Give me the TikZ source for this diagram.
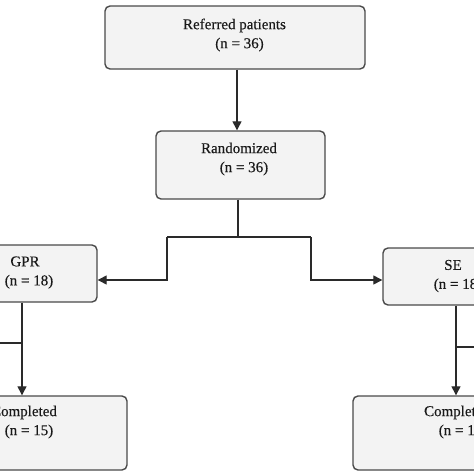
\documentclass[tikz,border=0pt]{standalone}
\usepackage{fontspec}
\setmainfont{Liberation Serif}
\newfontfamily\boxfont[FakeBold=0.35]{Liberation Serif}
\usetikzlibrary{arrows.meta}
\definecolor{boxfill}{HTML}{F3F3F3}
\definecolor{boxline}{HTML}{4A4A4A}
\definecolor{conn}{HTML}{2A2A2A}
\tikzset{
  stepbox/.style={draw=boxline, fill=boxfill, line width=1.4pt, rounded corners=5pt, inner sep=0pt},
  txt/.style={align=center, font=\boxfont\fontsize{15}{19}\selectfont, inner sep=0pt, text=black!90},
  conline/.style={draw=conn, line width=1.3pt},
  arr/.style={conline, -{Triangle[length=9pt,width=9pt]}}
}
\begin{document}
\begin{tikzpicture}[x=1pt,y=-1pt]
\clip (0,0) rectangle (474,474);
\fill[white] (0,0) rectangle (474,474);
% boxes
\node[stepbox, minimum width=260pt, minimum height=63pt] (ref) at (235,37.5) {};
\node[stepbox, minimum width=169pt, minimum height=68pt] (rand) at (240.5,165) {};
\node[stepbox, minimum width=140pt, minimum height=57pt] (gpr) at (27,273.5) {};
\node[stepbox, minimum width=144pt, minimum height=57pt] (se) at (455,276.5) {};
\node[stepbox, minimum width=206pt, minimum height=74pt] (compL) at (24,433) {};
\node[stepbox, minimum width=208pt, minimum height=74pt] (compR) at (457,433) {};
% texts
\node[txt] (reft) at (234.5,35) {Referred patients\\\hspace*{10pt}(n = 36)};
\node[txt] (randt) at (239,159) {Randomized\\\hspace*{10pt}(n = 36)};
\node[txt] (gprt) at (25,272.5) {GPR\\\hspace*{8pt}(n = 18)};
\node[txt] (set) at (453,276) {SE\\\hspace*{10pt}(n = 18)};
\node[txt] (compLt) at (24,422) {Completed\\\hspace*{10pt}(n = 15)};
\node[txt] (compRt) at (457,422) {Completed\\\hspace*{12pt}(n = 15)};
% coordinates
\coordinate (jl) at (167,237);
\coordinate (jr) at (311,237);
\coordinate (gl) at (167,280);
\coordinate (gr) at (311,280);
\coordinate (vl) at (22,0);
\coordinate (vr) at (456,0);
\coordinate (bl) at (0,343);
\coordinate (br) at (474,347);
% connectors
\draw[arr] ([xshift=2pt]ref.south) -- ([xshift=2pt]ref.south |- rand.north);
\draw[conline] ([xshift=-2.5pt]rand.south) -- ([xshift=-2.5pt]rand.south |- jl);
\draw[conline] (jl) -- (jr);
\draw[arr] (jl) -- (gl) -- (gl -| gpr.east);
\draw[arr] (jr) -- (gr) -- (gr -| se.west);
\draw[arr] (gpr.south -| vl) -- (compL.north -| vl);
\draw[arr] (se.south -| vr) -- (compR.north -| vr);
\draw[conline] (bl) -- (bl -| vl);
\draw[conline] (br) -- (br -| vr);
\end{tikzpicture}
\end{document}
